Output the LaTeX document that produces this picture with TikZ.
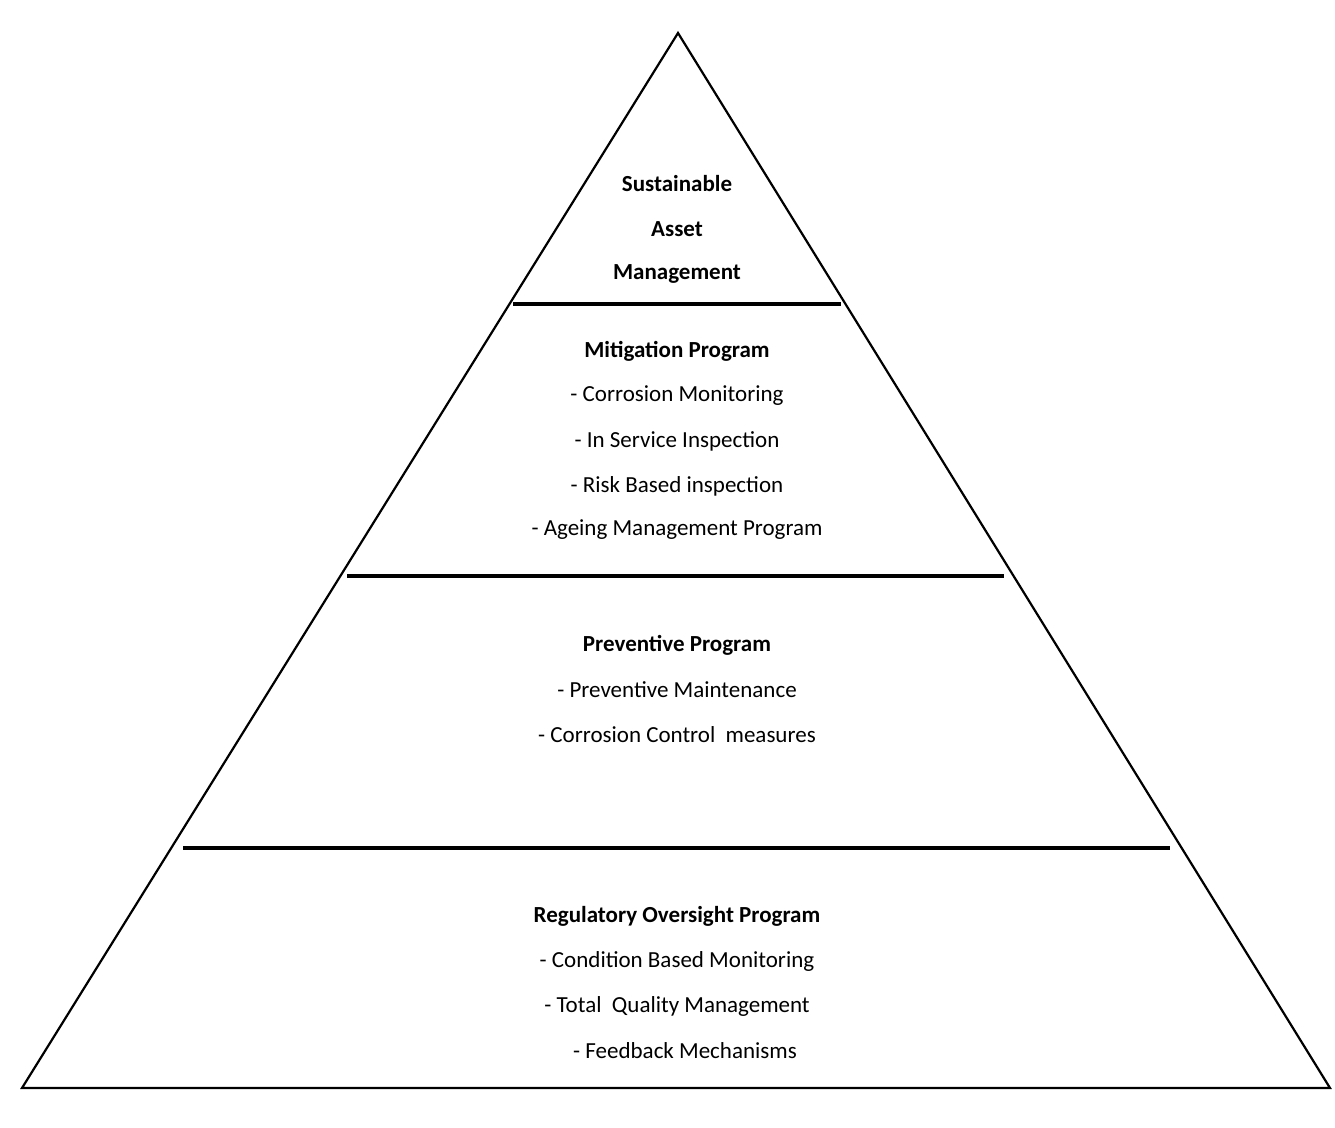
\documentclass[tikz,border=0pt]{standalone}
\usepackage{fontspec}
\setmainfont{Carlito}
\begin{document}
\begin{tikzpicture}[x=1pt,y=-1pt,
  txt/.style={font=\fontsize{23}{27}\selectfont, inner sep=0pt, anchor=center},
  hd/.style={txt, font=\fontsize{23}{27}\selectfont\bfseries},
  edge/.style={line width=2.2pt, line join=miter},
  divider/.style={line width=4pt}]
\useasboundingbox (0,0) rectangle (1335,1127);
\coordinate (apex) at (678,33);
\coordinate (bl) at (22,1088);
\coordinate (br) at (1330,1088);
\draw[edge] (apex) -- (br) -- (bl) -- cycle;
\coordinate (d1l) at (513,304); \coordinate (d1r) at (841,304);
\coordinate (d2l) at (347,576); \coordinate (d2r) at (1004,576);
\coordinate (d3l) at (183,848); \coordinate (d3r) at (1170,848);
\draw[divider] (d1l) -- (d1r);
\draw[divider] (d2l) -- (d2r);
\draw[divider] (d3l) -- (d3r);
\node[hd] (a1) at (677,184) {Sustainable};
\node[hd] (a2) at (677,229) {Asset};
\node[hd] (a3) at (677,274) {Management};
\node[hd] (m0) at (677,351) {Mitigation Program};
\node[txt] (m1) at (677,396) {- Corrosion Monitoring};
\node[txt] (m2) at (677,441) {- In Service Inspection};
\node[txt] (m3) at (677,486) {- Risk Based inspection};
\node[txt] (m4) at (677,530) {- Ageing Management Program};
\node[hd] (p0) at (677,645) {Preventive Program};
\node[txt] (p1) at (677,690) {- Preventive Maintenance};
\node[txt] (p2) at (677,735) {- Corrosion Control~~measures};
\node[hd] (r0) at (677,916) {Regulatory Oversight Program};
\node[txt] (r1) at (677,961) {- Condition Based Monitoring};
\node[txt] (r2) at (677,1006) {- Total~~Quality Management};
\node[txt] (r3) at (685,1051) {- Feedback Mechanisms};
\end{tikzpicture}
\end{document}
